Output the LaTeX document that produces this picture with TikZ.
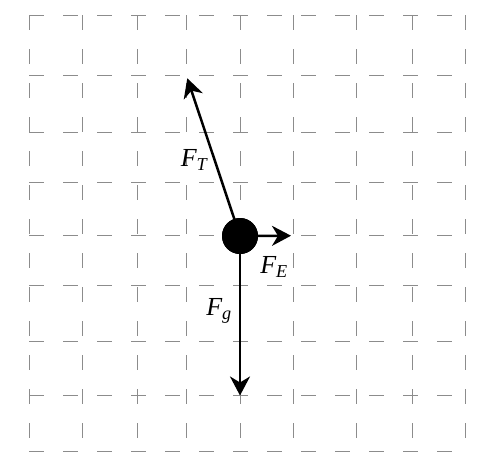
\documentclass[tikz,border=0pt]{standalone}
\usepackage{fontspec}
\setmainfont{Liberation Serif}
\usetikzlibrary{arrows.meta}
\begin{document}
\begin{tikzpicture}[x=1pt,y=-1pt,
  gridline/.style={draw=black!45,line width=1pt,dash pattern=on 15pt off 19pt},
  force/.style={draw=black,line width=2.5pt,-{Stealth[length=19pt,width=20pt,inset=6pt]}},
  lbl/.style={font=\fontsize{26}{30}\selectfont\itshape,inner sep=0pt}]
\useasboundingbox (0,0) rectangle (481,469);
\fill[white] (0,0) rectangle (481,469);
% grid
\foreach \gx in {29.3,82.7,137.3,186,240,293.3,356,412.7,465}
  \draw[gridline,dash phase=0pt] (\gx,15) -- (\gx,451.7);
\foreach \gy in {15,75,132.3,182.7,235.7,285.7,341,395.7,451.7}
  \draw[gridline,dash phase=0pt] (29.3,\gy) -- (465,\gy);
% tips
\coordinate (tT) at (187.3,78.3);
\coordinate (tE) at (291,235.7);
\coordinate (tg) at (240,395.5);
\node[circle,fill=black,minimum size=36pt,inner sep=0pt] (ball) at (240,236) {};
\draw[force] (ball.center) -- (tT);
\draw[force] (ball.center) -- (tE);
\draw[force] (ball.center) -- (tg);
\node[circle,fill=black,minimum size=36pt,inner sep=0pt] at (ball.center) {};
% labels
\node[lbl] (lT) at (194,160) {F\textsubscript{T}};
\node[lbl] (lE) at (274,267) {F\textsubscript{E}};
\node[lbl] (lg) at (219,311) {F\textsubscript{g}};
\end{tikzpicture}
\end{document}
